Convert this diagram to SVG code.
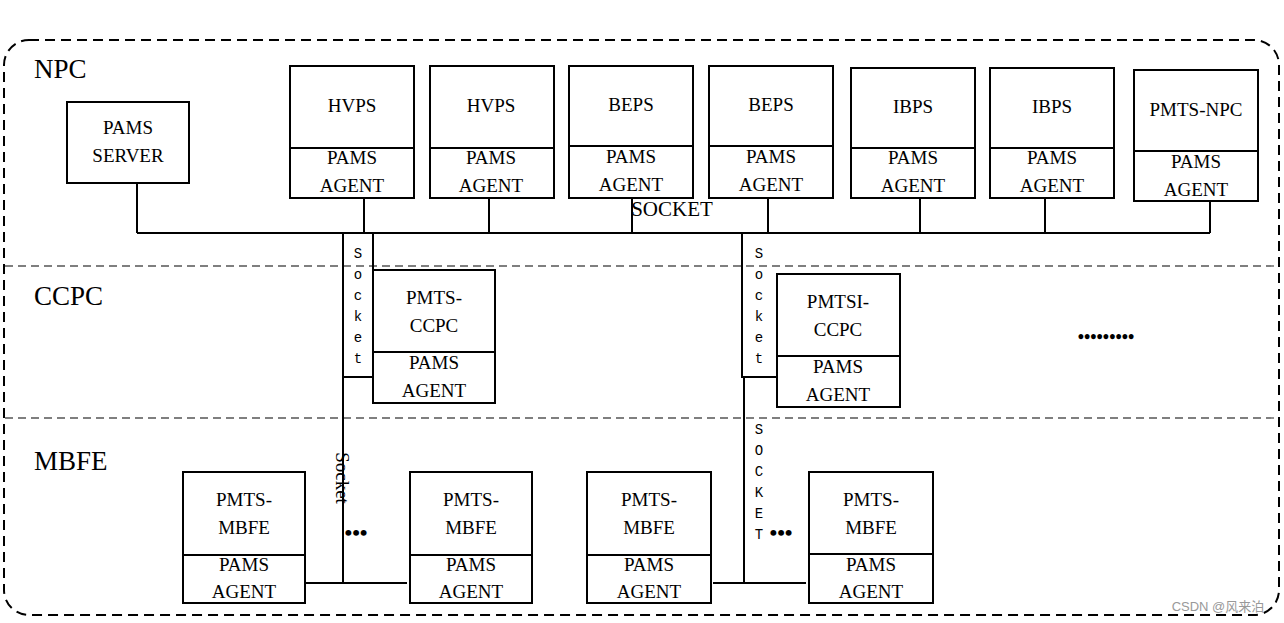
<svg xmlns="http://www.w3.org/2000/svg" width="1284" height="623" viewBox="0 0 1284 623">
<style>
.b{fill:#fff;stroke:#000;stroke-width:2}
.l{stroke:#000;stroke-width:2;fill:none}
.d{stroke:#555;stroke-width:1.3;stroke-dasharray:8 5;fill:none}
text{font-family:"Liberation Serif",serif;font-size:19px;text-anchor:middle;fill:#000}
.big{font-size:27px;text-anchor:start}
.v{font-family:"Liberation Mono",monospace;font-size:14px}
</style>
<rect width="1284" height="623" fill="#fff"/>
<rect x="4" y="40" width="1275" height="575" rx="25" fill="none" stroke="#000" stroke-width="2" stroke-dasharray="10 6"/>
<line class="d" x1="5" y1="266" x2="1278" y2="266"/>
<line class="d" x1="5" y1="418" x2="1278" y2="418"/>
<text class="big" x="34" y="78">NPC</text>
<text class="big" x="34" y="305">CCPC</text>
<text class="big" x="34" y="470">MBFE</text>
<g id="connectors">
<path class="l" d="M137 233H1210M137 183V233M364 198V233M489 198V233M632 198V233M768 198V233M920 198V233M1045 198V233M1210 201V233"/>
<path class="l" d="M343 233V583M343 377H373M373 233V270M303 583H407"/>
<path class="l" d="M742 233V377H777M744 377V583M713 583H806"/>
<text x="672" y="216" style="font-size:21px">SOCKET</text>
<text class="v" x="358" y="258">S</text><text class="v" x="358" y="279">o</text><text class="v" x="358" y="300">c</text><text class="v" x="358" y="321">k</text><text class="v" x="358" y="342">e</text><text class="v" x="358" y="363">t</text>
<text class="v" x="759" y="258">S</text><text class="v" x="759" y="279">o</text><text class="v" x="759" y="300">c</text><text class="v" x="759" y="321">k</text><text class="v" x="759" y="342">e</text><text class="v" x="759" y="363">t</text>
<text class="v" x="759" y="434">S</text><text class="v" x="759" y="455">O</text><text class="v" x="759" y="476">C</text><text class="v" x="759" y="497">K</text><text class="v" x="759" y="518">E</text><text class="v" x="759" y="539">T</text>
<text transform="translate(336,478) rotate(90)" style="font-size:19px">Socket</text>
<text x="356" y="540" style="font-size:22px;font-weight:bold">•••</text>
<text x="781" y="540" style="font-size:22px;font-weight:bold">•••</text>
<text x="1106" y="343" style="font-size:18px;font-weight:bold">•••••••••</text>
</g>
<g id="pams-server"><rect class="b" x="67" y="102" width="122" height="81"/><text x="128" y="134">PAMS</text><text x="128" y="162">SERVER</text></g>
<g id="hvps1"><rect class="b" x="290" y="66" width="124" height="132"/><line class="l" x1="290" y1="148" x2="414" y2="148"/><text x="352" y="112">HVPS</text><text x="352" y="164">PAMS</text><text x="352" y="192">AGENT</text></g>
<g id="hvps2"><rect class="b" x="430" y="66" width="124" height="132"/><line class="l" x1="430" y1="148" x2="554" y2="148"/><text x="491" y="112">HVPS</text><text x="491" y="164">PAMS</text><text x="491" y="192">AGENT</text></g>
<g id="beps1"><rect class="b" x="569" y="66" width="124" height="132"/><line class="l" x1="569" y1="146" x2="693" y2="146"/><text x="631" y="111">BEPS</text><text x="631" y="163">PAMS</text><text x="631" y="191">AGENT</text></g>
<g id="beps2"><rect class="b" x="709" y="66" width="124" height="132"/><line class="l" x1="709" y1="146" x2="833" y2="146"/><text x="771" y="111">BEPS</text><text x="771" y="163">PAMS</text><text x="771" y="191">AGENT</text></g>
<g id="ibps1"><rect class="b" x="851" y="68" width="124" height="130"/><line class="l" x1="851" y1="148" x2="975" y2="148"/><text x="913" y="113">IBPS</text><text x="913" y="164">PAMS</text><text x="913" y="192">AGENT</text></g>
<g id="ibps2"><rect class="b" x="990" y="68" width="124" height="130"/><line class="l" x1="990" y1="148" x2="1114" y2="148"/><text x="1052" y="113">IBPS</text><text x="1052" y="164">PAMS</text><text x="1052" y="192">AGENT</text></g>
<g id="pmts-npc"><rect class="b" x="1134" y="70" width="124" height="131"/><line class="l" x1="1134" y1="151" x2="1258" y2="151"/><text x="1196" y="116">PMTS-NPC</text><text x="1196" y="168">PAMS</text><text x="1196" y="196">AGENT</text></g>
<g id="pmts-ccpc"><rect class="b" x="373" y="270" width="122" height="133"/><line class="l" x1="373" y1="352" x2="495" y2="352"/><text x="434" y="304">PMTS-</text><text x="434" y="332">CCPC</text><text x="434" y="369">PAMS</text><text x="434" y="397">AGENT</text></g>
<g id="pmtsi-ccpc"><rect class="b" x="777" y="274" width="123" height="133"/><line class="l" x1="777" y1="356" x2="900" y2="356"/><text x="838" y="308">PMTSI-</text><text x="838" y="336">CCPC</text><text x="838" y="373">PAMS</text><text x="838" y="401">AGENT</text></g>
<g id="mbfe1"><rect class="b" x="183" y="472" width="122" height="131"/><line class="l" x1="183" y1="555" x2="305" y2="555"/><text x="244" y="506">PMTS-</text><text x="244" y="534">MBFE</text><text x="244" y="571">PAMS</text><text x="244" y="598">AGENT</text></g>
<g id="mbfe2"><rect class="b" x="410" y="472" width="122" height="131"/><line class="l" x1="410" y1="555" x2="532" y2="555"/><text x="471" y="506">PMTS-</text><text x="471" y="534">MBFE</text><text x="471" y="571">PAMS</text><text x="471" y="598">AGENT</text></g>
<g id="mbfe3"><rect class="b" x="587" y="472" width="124" height="131"/><line class="l" x1="587" y1="555" x2="711" y2="555"/><text x="649" y="506">PMTS-</text><text x="649" y="534">MBFE</text><text x="649" y="571">PAMS</text><text x="649" y="598">AGENT</text></g>
<g id="mbfe4"><rect class="b" x="809" y="472" width="124" height="131"/><line class="l" x1="809" y1="554" x2="933" y2="554"/><text x="871" y="506">PMTS-</text><text x="871" y="534">MBFE</text><text x="871" y="571">PAMS</text><text x="871" y="598">AGENT</text></g>
<text x="1218" y="611" style="font-family:'Liberation Sans','Noto Sans CJK SC',sans-serif;font-size:13px;fill:#999">CSDN @风来泊</text>
</svg>
